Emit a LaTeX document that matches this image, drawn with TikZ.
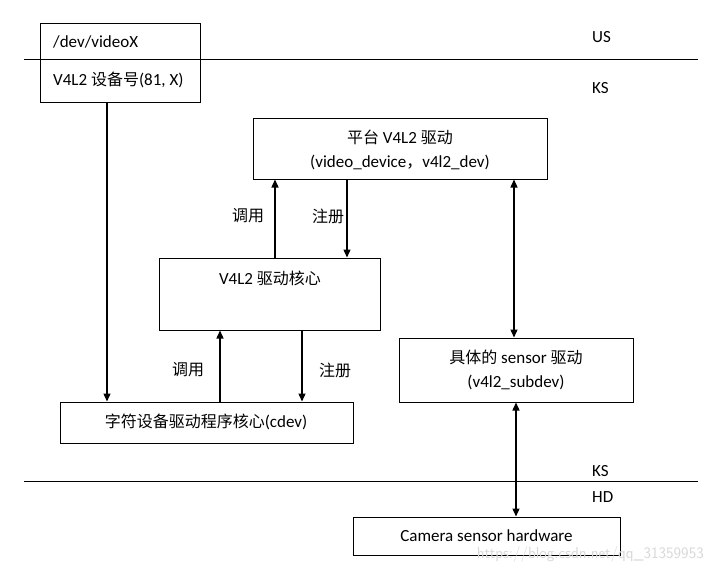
\documentclass[tikz,border=0pt]{standalone}
\usepackage{fontspec}
\setmainfont{Carlito}
\newfontfamily\cjk{Noto Sans CJK SC}
\usetikzlibrary{arrows.meta,calc}
\begin{document}
\begin{tikzpicture}[x=1pt,y=-1pt,
  box/.style={draw,line width=1pt,rectangle,inner sep=0pt},
  txt/.style={inner sep=0pt,font=\fontsize{17}{19}\selectfont},
  lbl/.style={inner sep=0pt,font=\fontsize{16}{19}\selectfont\cjk},
  arr/.style={line width=1.3pt,-{Triangle[length=8pt,width=7pt]}},
  darr/.style={line width=1.3pt,{Triangle[length=8pt,width=7pt]}-{Triangle[length=8pt,width=7pt]}},
  sep/.style={line width=1pt}]
\useasboundingbox (0,0) rectangle (713,570);
\fill[white] (0,0) rectangle (713,570);
% boxes
\node[box,minimum width=160pt,minimum height=79pt] (dev) at (120,62.5) {};
\node[box,minimum width=294pt,minimum height=61pt] (plat) at (400,148.5) {};
\node[box,minimum width=221pt,minimum height=72pt] (core) at (269.5,294) {};
\node[box,minimum width=293pt,minimum height=41pt] (cdev) at (206.5,422.5) {};
\node[box,minimum width=234pt,minimum height=64pt] (sens) at (516,370) {};
\node[box,minimum width=267pt,minimum height=38pt] (cam) at (486.5,536) {};
% separator lines
\coordinate (l1a) at (24,59); \coordinate (l1b) at (698,59);
\coordinate (l2a) at (24,481); \coordinate (l2b) at (698,481);
\draw[sep] (l1a) -- (l1b);
\draw[sep] (l2a) -- (l2b);
% texts
\node[txt,anchor=west] (t1) at (53,42) {/dev/videoX};
\node[txt,anchor=west] (t2) at (53,80) {V4L2 {\cjk\fontsize{16}{19}\selectfont 设备号}(81, X)};
\node[txt] (t3) at (400,137) {{\cjk\fontsize{16}{19}\selectfont 平台} V4L2 {\cjk\fontsize{16}{19}\selectfont 驱动}};
\node[txt] (t4) at (400,162) {(video\_device{\cjk\fontsize{16}{19}\selectfont ，}v4l2\_dev)};
\node[txt] (t5) at (270,278) {V4L2 {\cjk\fontsize{16}{19}\selectfont 驱动核心}};
\node[txt] (t6) at (206,422) {{\cjk\fontsize{16}{19}\selectfont 字符设备驱动程序核心}(cdev)};
\node[txt] (t7) at (516,357) {{\cjk\fontsize{16}{19}\selectfont 具体的} sensor {\cjk\fontsize{16}{19}\selectfont 驱动}};
\node[txt] (t8) at (516,382) {(v4l2\_subdev)};
\node[txt] (t9) at (486.5,536) {Camera sensor hardware};
\node[txt,anchor=west] (us) at (592,37) {US};
\node[txt,anchor=west] (ks1) at (592,88) {KS};
\node[txt,anchor=west] (ks2) at (592,471) {KS};
\node[txt,anchor=west] (hd) at (592,497) {HD};
\node[lbl] (c1) at (248,216) {调用};
\node[lbl] (r1) at (328,216) {注册};
\node[lbl] (c2) at (188,370) {调用};
\node[lbl] (r2) at (335,370) {注册};
\node[inner sep=0pt,font=\fontsize{16}{18}\selectfont\sffamily,text=gray!30,anchor=east] (wm) at (704,554) {https://blog.csdn.net/qq\_31359953};
% x positions
\coordinate (xa) at (107,0);
\coordinate (xb) at (275,0);
\coordinate (xc) at (347,0);
\coordinate (xd) at (220,0);
\coordinate (xe) at (302,0);
\coordinate (xf) at (514,0);
\coordinate (xg) at (516,0);
% connectors
\draw[arr] (dev.south -| xa) -- (cdev.north -| xa);
\draw[arr] (core.north -| xb) -- (plat.south -| xb);
\draw[arr] (plat.south -| xc) -- (core.north -| xc);
\draw[arr] (cdev.north -| xd) -- (core.south -| xd);
\draw[arr] (core.south -| xe) -- (cdev.north -| xe);
\draw[darr] (plat.south -| xf) -- (sens.north -| xf);
\draw[darr] (sens.south -| xg) -- (cam.north -| xg);
\end{tikzpicture}
\end{document}
